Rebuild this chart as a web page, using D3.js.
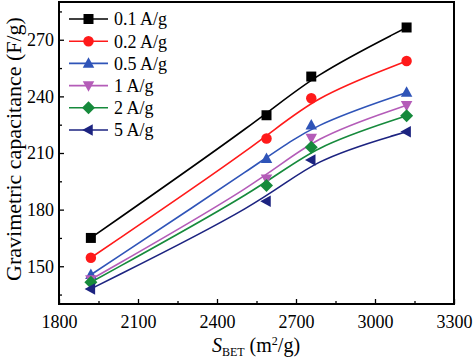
<!DOCTYPE html>
<html><head><meta charset="utf-8">
<script src="https://cdn.jsdelivr.net/npm/d3@7"></script>
<style>html,body{margin:0;padding:0;background:#fff}svg{display:block}</style>
</head><body><svg id="c" width="474" height="360"></svg>
<script>
const sbet = [1921, 2588, 2758, 3120];
const seriesNames = ["0.1 A/g","0.2 A/g","0.5 A/g","1 A/g","2 A/g","5 A/g"];
const s01 = [165, 230, 250.5, 276.5];
const s02 = [154.5, 217.7, 239, 258.7];
const s05 = [145.5, 207, 224.7, 242];
const s1  = [143, 196.3, 218, 235.3];
const s2  = [141.5, 192.8, 213, 229.7];
const s5  = [138, 184.5, 206.3, 221.3];
const xTicks = [1800, 2100, 2400, 2700, 3000, 3300];
const yTicks = [150, 180, 210, 240, 270];
const colors = ["#000000","#ff1a1a","#2f54b8","#b45cb8","#168a3c","#1c2380"];
const symbols = ["square","circle","triUp","triDown","diamond","triLeft"];
const allSeries = [s01, s02, s05, s1, s2, s5];
const FONT = "'Liberation Serif', 'Times New Roman', serif";

const svg = d3.select("#c");
const x = d3.scaleLinear().domain([1800, 3300]).range([59, 454]);
const y = d3.scaleLinear().domain([130, 290]).range([304, 2]);

function markerPath(type, s) {
  const p = d3.path();
  if (type === "square") { p.rect(-s, -s, 2*s, 2*s); }
  else if (type === "circle") { p.arc(0, 0, s*1.05, 0, 2*Math.PI); }
  else if (type === "triUp") { p.moveTo(0, -s*1.25); p.lineTo(s*1.15, s*0.85); p.lineTo(-s*1.15, s*0.85); p.closePath(); }
  else if (type === "triDown") { p.moveTo(0, s*1.25); p.lineTo(s*1.15, -s*0.85); p.lineTo(-s*1.15, -s*0.85); p.closePath(); }
  else if (type === "diamond") { p.moveTo(0, -s*1.3); p.lineTo(s*1.3, 0); p.lineTo(0, s*1.3); p.lineTo(-s*1.3, 0); p.closePath(); }
  else if (type === "triLeft") { p.moveTo(-s*1.25, 0); p.lineTo(s*0.85, -s*1.15); p.lineTo(s*0.85, s*1.15); p.closePath(); }
  return p.toString();
}

const line = d3.line().x((d,i) => x(sbet[i])).y(d => y(d)).curve(d3.curveBasis);

const g = svg.append("g");
allSeries.forEach((vals, k) => {
  g.append("path").attr("d", line(vals)).attr("fill","none").attr("stroke", colors[k]).attr("stroke-width", 1.6);
});
allSeries.forEach((vals, k) => {
  g.selectAll(null).data(vals).enter().append("path")
    .attr("d", markerPath(symbols[k], 5))
    .attr("transform", (d,i) => `translate(${x(sbet[i])},${y(d)})`)
    .attr("fill", colors[k]);
});

const xAxis = d3.axisBottom(x).tickValues(xTicks).tickSize(-5).tickPadding(11).tickFormat(d3.format("d"));
const xMinor = d3.axisBottom(x).tickValues(d3.range(1950, 3300, 300)).tickSize(-3).tickFormat("");
const yAxis = d3.axisLeft(y).tickValues(yTicks).tickSize(-5).tickPadding(5).tickFormat(d3.format("d"));
const yMinor = d3.axisLeft(y).tickValues(d3.range(135, 290, 30)).tickSize(-3).tickFormat("");

function style(sel) {
  sel.select(".domain").remove();
  sel.attr("font-family", FONT).attr("font-size", 18);
  sel.selectAll("line").attr("stroke","#000").attr("stroke-width",1.3);
  sel.selectAll("text").style("font-family", FONT).style("font-size","18px").attr("fill","#000");
}
svg.append("g").attr("transform","translate(0,304)").call(xAxis).call(style);
svg.append("g").attr("transform","translate(0,304)").call(xMinor).call(style);
svg.append("g").attr("transform","translate(59,0)").call(yAxis).call(style);
svg.append("g").attr("transform","translate(59,0)").call(yMinor).call(style);

svg.append("rect").attr("x",59).attr("y",2).attr("width",454-59).attr("height",304-2)
  .attr("fill","none").attr("stroke","#000").attr("stroke-width",2);

const leg = svg.append("g");
seriesNames.forEach((nm, k) => {
  const cy = 19 + k*22.2;
  leg.append("line").attr("x1",69).attr("x2",108).attr("y1",cy).attr("y2",cy).attr("stroke",colors[k]).attr("stroke-width",1.6);
  leg.append("path").attr("d", markerPath(symbols[k], 5)).attr("transform",`translate(88.5,${cy})`).attr("fill",colors[k]);
  leg.append("text").attr("x",114).attr("y",cy).attr("dy","0.35em").style("font-family", FONT).style("font-size","18px").text(nm);
});

svg.append("text").attr("transform","translate(21,149) rotate(-90)").attr("text-anchor","middle")
  .style("font-family", FONT).style("font-size","22px").text("Gravimetric capacitance (F/g)");
const xt = svg.append("text").attr("x",256).attr("y",352).attr("text-anchor","middle")
  .style("font-family", FONT).style("font-size","20px");
xt.append("tspan").attr("font-style","italic").text("S");
xt.append("tspan").style("font-size","12px").attr("dy","4").text("BET");
xt.append("tspan").attr("dy","-4").text(" (m");
xt.append("tspan").style("font-size","12px").attr("dy","-7").text("2");
xt.append("tspan").attr("dy","7").text("/g)");
</script></body></html>
